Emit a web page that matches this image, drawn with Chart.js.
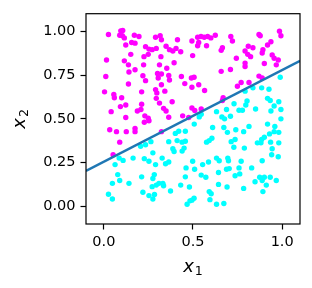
<!DOCTYPE html>
<html>
<head>
<meta charset="utf-8">
<script src="https://cdn.jsdelivr.net/npm/chart.js@4"></script>
<style>
  body { margin: 0; background: #fff; }
  canvas { display: block; }
</style>
</head>
<body>
<canvas id="chart" width="312" height="288"></canvas>
<script>
// class above the line
const magentaX = [0.026,0.095,0.106,0.089,0.104,0.115,0.171,0.197,0.123,0.156,0.175,0.234,0.253,0.271,0.294,0.290,0.316,0.323,0.349,0.368,0.387,0.405,0.413,0.431,0.494,0.498,0.151,0.015,0.115,0.138,0.141,0.175,0.225,0.249,0.223,0.320,0.312,0.353,0.394,0.219,0.234,0.301,0.305,0.323,0.364,0.368,0.323,0.435,0.454,0.491,0.494,0.011,0.138,0.004,0.056,0.059,0.100,0.212,0.290,0.297,0.294,0.342,0.312,0.383,0.335,0.349,0.093,0.123,0.041,0.188,0.208,0.123,0.230,0.249,0.212,0.033,0.071,0.126,0.175,0.175,0.089,0.323,0.052,0.227,0.253,0.364,0.442,0.476,0.494,0.510,0.546,0.526,0.545,0.563,0.582,0.600,0.625,0.532,0.526,0.576,0.712,0.721,0.665,0.658,0.870,0.877,0.985,0.993,0.810,0.792,0.807,0.823,0.836,0.892,0.888,0.918,0.937,0.743,0.792,0.792,0.900,0.944,0.955,0.978,0.967,0.658,0.710,0.506,0.532,0.565,0.870,0.888,0.770,0.814,0.749,0.669,0.665];
const magentaY = [0.981,1.002,1.004,0.977,0.974,0.962,0.977,0.970,0.921,0.936,0.932,0.912,0.898,0.895,0.902,0.966,0.974,0.951,0.914,0.895,0.887,0.902,0.951,0.883,0.944,0.861,0.868,0.836,0.831,0.808,0.767,0.780,0.855,0.868,0.808,0.855,0.808,0.789,0.820,0.746,0.718,0.759,0.733,0.756,0.748,0.722,0.695,0.742,0.701,0.733,0.680,0.742,0.699,0.654,0.639,0.620,0.620,0.654,0.667,0.648,0.617,0.658,0.590,0.598,0.560,0.545,0.570,0.579,0.541,0.545,0.553,0.508,0.517,0.504,0.583,0.438,0.427,0.427,0.445,0.427,0.367,0.427,0.295,0.481,0.489,0.509,0.517,0.508,0.562,0.548,0.556,0.966,0.970,0.966,0.970,0.962,0.977,0.936,0.917,0.917,0.970,0.944,0.906,0.891,0.981,0.974,1.000,0.974,0.914,0.887,0.868,0.855,0.906,0.895,0.876,0.921,0.940,0.846,0.818,0.799,0.816,0.865,0.846,0.836,0.808,0.771,0.782,0.737,0.695,0.662,0.744,0.733,0.707,0.707,0.686,0.620,0.605];

// class below the line
const cyanX = [0.989,0.792,0.836,0.885,0.926,0.918,0.933,0.981,0.955,0.993,0.937,0.803,0.796,0.730,0.851,0.758,0.777,0.688,0.710,0.632,0.662,0.677,0.535,0.546,0.993,0.507,0.610,0.673,0.693,0.740,0.784,0.814,0.918,0.959,0.955,0.929,0.981,0.900,0.885,0.861,0.881,0.935,0.981,0.576,0.591,0.606,0.714,0.736,0.729,0.788,0.944,0.941,0.978,0.888,0.498,0.554,0.587,0.632,0.647,0.695,0.699,0.770,0.509,0.688,0.703,0.758,0.829,0.546,0.572,0.643,0.736,0.762,0.874,0.900,0.933,0.888,0.911,0.848,0.967,0.480,0.643,0.691,0.784,0.892,0.591,0.602,0.595,0.494,0.506,0.632,0.673,0.401,0.420,0.457,0.364,0.411,0.439,0.457,0.450,0.387,0.394,0.439,0.234,0.206,0.264,0.275,0.086,0.108,0.063,0.164,0.227,0.253,0.290,0.327,0.346,0.364,0.461,0.078,0.089,0.048,0.141,0.212,0.283,0.275,0.294,0.271,0.309,0.331,0.335,0.374,0.431,0.457,0.219,0.253,0.275,0.284,0.026,0.048,0.467,0.483];
const cyanY = [0.737,0.658,0.677,0.677,0.669,0.617,0.605,0.598,0.573,0.553,0.545,0.602,0.579,0.586,0.556,0.549,0.549,0.553,0.515,0.541,0.511,0.500,0.511,0.526,0.500,0.470,0.451,0.451,0.423,0.438,0.427,0.457,0.470,0.457,0.427,0.414,0.423,0.395,0.382,0.363,0.363,0.367,0.363,0.367,0.376,0.389,0.370,0.382,0.338,0.333,0.329,0.295,0.284,0.261,0.258,0.239,0.254,0.276,0.261,0.276,0.261,0.258,0.212,0.212,0.216,0.220,0.220,0.179,0.167,0.194,0.175,0.186,0.167,0.167,0.167,0.148,0.122,0.141,0.148,0.111,0.126,0.111,0.103,0.085,0.085,0.073,0.039,0.036,0.047,0.013,0.017,0.417,0.429,0.429,0.370,0.376,0.367,0.372,0.333,0.329,0.314,0.316,0.352,0.344,0.370,0.306,0.276,0.263,0.239,0.276,0.273,0.258,0.239,0.276,0.244,0.254,0.220,0.182,0.148,0.132,0.132,0.169,0.182,0.160,0.122,0.113,0.132,0.132,0.118,0.088,0.122,0.169,0.081,0.062,0.043,0.069,0.070,0.043,0.013,0.032];

// decision boundary
const lineX = [-0.1, 1.1];
const lineY = [0.203, 0.831];

const xTicks = [0, 0.5, 1.0];
const xTickLabels = ['0.0', '0.5', '1.0'];
const yTicks = [0, 0.25, 0.5, 0.75, 1.0];
const yTickLabels = ['0.00', '0.25', '0.50', '0.75', '1.00'];

const pts = (xs, ys) => xs.map((x, i) => ({ x: x, y: ys[i] }));

const FONT = "'DejaVu Sans', sans-serif";

const frameAndLabels = {
    id: 'frameAndLabels',
    afterDraw(chart) {
        const { ctx, chartArea: a } = chart;
        ctx.save();
        ctx.strokeStyle = '#000';
        ctx.lineWidth = 1.2;
        ctx.strokeRect(a.left, a.top, a.right - a.left, a.bottom - a.top);

        ctx.fillStyle = '#000';
        ctx.textBaseline = 'alphabetic';
        ctx.textAlign = 'left';
        const big = 'italic 18px ' + FONT;
        const small = '12.6px ' + FONT;

        // x label
        ctx.font = big;
        const wx = ctx.measureText('x').width;
        ctx.font = small;
        const w1 = ctx.measureText('1').width;
        let sx = (a.left + a.right) / 2 - (wx + w1 + 1) / 2;
        ctx.font = big;
        ctx.fillText('x', sx, 271.5);
        ctx.font = small;
        ctx.fillText('1', sx + wx + 1, 274.5);

        // y label
        ctx.translate(25, (a.top + a.bottom) / 2);
        ctx.rotate(-Math.PI / 2);
        ctx.font = big;
        let sy = -(wx + w1 + 1) / 2;
        ctx.fillText('x', sy, 0);
        ctx.font = small;
        ctx.fillText('2', sy + wx + 1, 3);
        ctx.restore();
    }
};

const axisCommon = {
    type: 'linear',
    min: -0.1,
    max: 1.1,
    border: { display: false },
    grid: {
        drawOnChartArea: false,
        drawTicks: true,
        tickLength: 5.5,
        tickColor: '#000',
        tickWidth: 1.2
    }
};

new Chart(document.getElementById('chart'), {
    type: 'scatter',
    data: {
        datasets: [
            {
                type: 'line',
                data: pts(lineX, lineY),
                borderColor: '#1f77b4',
                borderWidth: 2.3,
                pointRadius: 0,
                fill: false,
                order: 0
            },
            {
                data: pts(magentaX, magentaY),
                backgroundColor: '#ff00ff',
                borderWidth: 0,
                pointRadius: 2.7,
                order: 1
            },
            {
                data: pts(cyanX, cyanY),
                backgroundColor: '#00ffff',
                borderWidth: 0,
                pointRadius: 2.7,
                order: 1
            }
        ]
    },
    options: {
        responsive: false,
        animation: false,
        devicePixelRatio: 1,
        layout: { padding: { top: 11, right: 12, left: 0, bottom: 0 } },
        plugins: { legend: { display: false }, tooltip: { enabled: false } },
        scales: {
            x: Object.assign({}, axisCommon, {
                afterBuildTicks: s => { s.ticks = xTicks.map(v => ({ value: v })); },
                afterFit: s => { s.height = 64; },
                ticks: {
                    color: '#000',
                    padding: 4,
                    maxRotation: 0,
                    font: { family: FONT, size: 14.5 },
                    callback: (v) => xTickLabels[xTicks.indexOf(v)]
                }
            }),
            y: Object.assign({}, axisCommon, {
                afterBuildTicks: s => { s.ticks = yTicks.map(v => ({ value: v })); },
                afterFit: s => { s.width = 86; },
                ticks: {
                    color: '#000',
                    padding: 5,
                    font: { family: FONT, size: 14.5 },
                    callback: (v) => yTickLabels[yTicks.indexOf(v)]
                }
            })
        }
    },
    plugins: [frameAndLabels]
});
</script>
</body>
</html>
